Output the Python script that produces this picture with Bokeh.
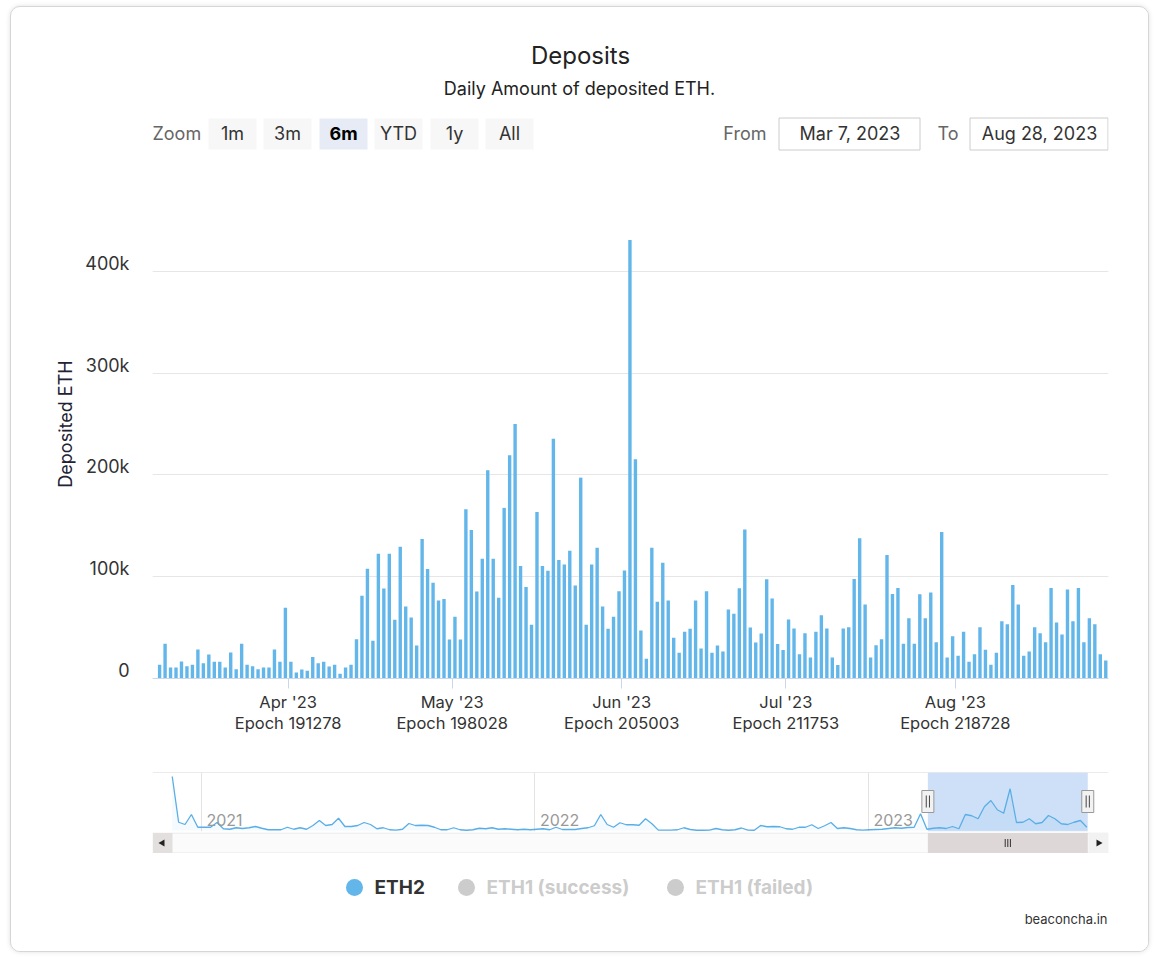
import math
import pandas as pd
from bokeh.plotting import figure
from bokeh.models import (Range1d, LinearAxis, FixedTicker, Grid, Span, ColumnDataSource)
from bokeh.layouts import column
from bokeh.embed import file_html
from bokeh.resources import INLINE
from bokeh.core.properties import value

# ---------------- data ----------------
first_day = "2023-03-08"
last_day = "2023-08-28"
# daily deposited ETH (thousands of ETH)
deposits_k = [
    13.4, 34.1, 10.8, 10.8, 16.7, 12.1, 13.4, 28.5, 15.1, 23.6,
    16.4, 16.4, 10.8, 25.6, 9.2, 34.1, 13.4, 12.1, 9.2, 10.8,
    10.8, 28.5, 16.4, 69.5, 16.4, 5.9, 8.9, 7.5, 21.0, 15.1,
    16.4, 11.8, 13.4, 4.6, 10.8, 13.4, 38.5, 81.2, 107.7, 37.2,
    122.5, 88.3, 122.5, 57.8, 129.4, 70.7, 59.8, 32.4, 137.0, 107.5,
    94.0, 76.5, 78.0, 38.2, 60.6, 38.2, 166.3, 145.8, 85.4, 117.6,
    204.6, 117.6, 79.4, 167.6, 219.3, 250.0, 110.6, 89.9, 52.9, 163.6,
    110.6, 105.9, 235.6, 116.5, 111.9, 125.4, 91.3, 197.3, 52.9, 112.0,
    128.5, 70.8, 48.9, 60.7, 85.6, 106.2, 430.8, 215.4, 47.2, 19.3,
    128.5, 75.4, 113.8, 76.7, 40.0, 25.2, 45.9, 48.9, 76.7, 29.5,
    85.6, 25.2, 32.5, 26.6, 67.9, 63.7, 88.6, 146.4, 50.2, 35.4,
    44.3, 97.5, 78.5, 34.0, 28.0, 57.9, 49.0, 23.7, 44.4, 20.7,
    46.0, 62.2, 49.0, 20.7, 13.2, 49.0, 50.3, 97.7, 137.8, 72.7,
    20.7, 32.6, 38.5, 121.4, 82.9, 88.8, 34.2, 59.2, 34.2, 82.8,
    59.2, 84.5, 35.5, 143.8, 20.7, 41.4, 22.4, 46.0, 16.4, 23.7,
    50.3, 28.3, 13.5, 25.3, 56.3, 53.3, 91.8, 72.7, 22.4, 26.6,
    50.3, 44.4, 35.5, 88.8, 54.9, 43.1, 87.5, 56.3, 88.8, 35.5,
    59.2, 53.3, 23.7, 17.8,
]
tick_dates = ["2023-04-01", "2023-05-01", "2023-06-01", "2023-07-01", "2023-08-01"]
tick_months = ["Apr '23", "May '23", "Jun '23", "Jul '23", "Aug '23"]
tick_epochs = ["Epoch 191278", "Epoch 198028", "Epoch 205003", "Epoch 211753", "Epoch 218728"]
y_ticks = [0, 100000, 200000, 300000, 400000]
y_tick_labels = ["0", "100k", "200k", "300k", "400k"]
grid_ticks = [100000, 200000, 300000, 400000, 500000]
view_from = "2023-03-07"
view_to = "2023-08-29"

# navigator: weekly overview of the whole history (thousands of ETH)
nav_start = "2020-11-30"
nav_k = [
    432, 66, 48, 128, 26, 26, 26, 64, 14, 10,
    22, 16, 22, 32, 18, 6, 6, 6, 26, 10,
    22, 10, 40, 80, 40, 48, 98, 32, 32, 40,
    64, 48, 14, 22, 6, 3, 10, 56, 40, 42,
    40, 26, 6, 6, 22, 6, 2, 6, 18, 14,
    22, 10, 14, 10, 6, 10, 6, 10, 14, 6,
    26, 8, 8, 8, 16, 22, 38, 128, 48, 26,
    62, 46, 46, 42, 94, 54, 3, 3, 3, 6,
    22, 8, 2, 2, 3, 16, 6, 2, 6, 20,
    3, 2, 40, 30, 32, 30, 14, 10, 26, 26,
    46, 16, 38, 64, 16, 22, 16, 6, 3, 6,
    8, 10, 16, 22, 18, 24, 26, 134, 10, 18,
    22, 16, 32, 14, 128, 118, 94, 192, 240, 166,
    138, 334, 64, 66, 94, 54, 64, 120, 94, 54,
    48, 66, 80, 26,
]
nav_years = ["2021-01-01", "2022-01-01", "2023-01-01"]
nav_year_labels = ["2021", "2022", "2023"]

legend_names = ["ETH2", "ETH1 (success)", "ETH1 (failed)"]
range_buttons = ["1m", "3m", "6m", "YTD", "1y", "All"]
selected_button = "6m"
from_text = "Mar 7, 2023"
to_text = "Aug 28, 2023"
title_text = "Deposits"
subtitle_text = "Daily Amount of deposited ETH."
credits_text = "beaconcha.in"

# ---------------- styling / layout ----------------
FONT = value("Inter")
BAR = "#63b6ea"
LINE = "#5aaee6"
TXT = "#333333"
OX, OY = 11, 7            # card content origin on the page
W = 1137                  # card inner width
FL, FR = 152, 1108        # plot frame left/right on the page
BL, BR = FL - OX, OX + W - FR


def canvas_fig(top, bottom):
    """Figure in page-pixel coordinates (y down); its frame spans FL..FR."""
    f = figure(width=W, height=bottom - top, x_range=Range1d(FL, FR),
               y_range=Range1d(bottom, top),
               output_backend="svg", toolbar_location=None,
               x_axis_location=None, y_axis_location=None,
               min_border_left=BL, min_border_right=BR, min_border_top=0,
               min_border_bottom=0, outline_line_color=None,
               background_fill_color="white", border_fill_color="white")
    f.grid.visible = False
    return f


def txt(f, x, y, s, size, color=TXT, align="left", style="normal", **kw):
    f.text(x=[x], y=[y], text=[s], text_font=FONT, text_font_size=size,
           text_color=color, text_align=align, text_baseline="middle",
           text_font_style=style, **kw)


# ---------------- header ----------------
hdr = canvas_fig(OY, 160)
txt(hdr, 580, 55, title_text, "24px", color="#222222", align="center")
txt(hdr, 579, 88, subtitle_text, "18px", color="#222222", align="center")
txt(hdr, 152, 133, "Zoom", "18px", color="#666666")
btn_left = [208, 263, 319, 374, 430, 485]
for name, bl in zip(range_buttons, btn_left):
    sel = name == selected_button
    hdr.quad(left=[bl], right=[bl + 48], top=[118], bottom=[149],
             fill_color="#e6ebf5" if sel else "#f7f7f7", line_color=None)
    txt(hdr, bl + 24, 133, name, "18px", color="#000000" if sel else TXT,
        align="center", style="bold" if sel else "normal")
txt(hdr, 766, 133, "From", "18px", color="#666666", align="right")
txt(hdr, 937, 133, "To", "18px", color="#666666")
for bl, br, s in [(778.5, 919.5, from_text), (969.5, 1107.5, to_text)]:
    hdr.quad(left=[bl], right=[br], top=[117.5], bottom=[149.5],
             fill_color="white", line_color="#cccccc", line_width=1)
    txt(hdr, (bl + br) / 2 + 0.5, 133, s, "18px", color=TXT, align="center")

# ---------------- main chart ----------------
origin = pd.Timestamp(view_from)
dates = pd.date_range(first_day, last_day, freq="D")
bar_x = [(d - origin).days + 0.5 for d in dates]
src = ColumnDataSource(dict(x=bar_x, top=[v * 1000 for v in deposits_k]))
tick_x = [(pd.Timestamp(d) - origin).days for d in tick_dates]

p = figure(width=W, height=610, x_range=Range1d(0.2, 175.0),
           y_range=Range1d(0, 500000), output_backend="svg",
           toolbar_location=None, y_axis_location=None,
           min_border_left=BL, min_border_right=BR, min_border_top=9,
           min_border_bottom=92, outline_line_color=None,
           background_fill_color="white", border_fill_color="white")
p.grid.visible = False
p.add_layout(Grid(dimension=1, ticker=FixedTicker(ticks=grid_ticks),
                  grid_line_color="#e6e6e6"))
p.vbar(x="x", top="top", width=0.62, source=src, fill_color=BAR, line_color=None)

xa = p.xaxis[0]
xa.ticker = FixedTicker(ticks=tick_x)
xa.major_label_overrides = {t: f"{m}\n{e}" for t, m, e in zip(tick_x, tick_months, tick_epochs)}
xa.axis_line_color = "#ccd6eb"
xa.major_tick_line_color = "#ccd6eb"
xa.major_tick_out = 10
xa.major_tick_in = 0
xa.minor_tick_line_color = None
xa.major_label_standoff = 3
xa.major_label_text_font = "Inter"
xa.major_label_text_font_size = "16.5px"
xa.major_label_text_line_height = 1.05
xa.major_label_text_color = TXT

# y labels sit slightly above their grid lines
p.extra_y_ranges = {"ylab": Range1d(-7860, 492140)}
ya = LinearAxis(y_range_name="ylab", ticker=FixedTicker(ticks=y_ticks),
                major_label_overrides=dict(zip(y_ticks, y_tick_labels)),
                axis_line_color=None, major_tick_line_color=None,
                minor_tick_line_color=None, major_label_standoff=17,
                major_label_text_font="Inter", major_label_text_font_size="18px",
                major_label_text_color=TXT,
                axis_label="Deposited ETH", axis_label_standoff=6,
                axis_label_text_font="Inter", axis_label_text_font_size="18px",
                axis_label_text_font_style="normal", axis_label_text_color="#222233")
p.add_layout(ya, "left")

# ---------------- navigator ----------------
n0 = pd.Timestamp(nav_start)
nav_x = [7 * k for k in range(len(nav_k))]
year_x = [(pd.Timestamp(d) - n0).days for d in nav_years]
sel_l = (pd.Timestamp(view_from) - n0).days
sel_r = (pd.Timestamp(view_to) - n0).days
NAV_X = (-21.6, 1024.7)
px_per_day = (FR - FL) / (NAV_X[1] - NAV_X[0])

nav = figure(width=W, height=62, x_range=Range1d(*NAV_X), y_range=Range1d(-8, 464),
             output_backend="svg", toolbar_location=None,
             x_axis_location=None, y_axis_location=None,
             min_border_left=BL, min_border_right=BR, min_border_top=2,
             min_border_bottom=1, outline_line_color=None,
             background_fill_color="white", border_fill_color="white")
nav.grid.visible = False
nav.quad(left=[sel_l], right=[sel_r], bottom=[-8], top=[464],
         fill_color="#cde0f7", line_color=None)
nav.add_layout(Grid(dimension=0, ticker=FixedTicker(ticks=year_x), grid_line_color="#e3e3e3"))
nav.add_layout(Span(location=464, dimension="width", line_color="#d8d8d8", line_width=1))
nav.varea(x=nav_x, y1=[0] * len(nav_k), y2=nav_k, fill_color=LINE, fill_alpha=0.06)
nav.line(x=nav_x, y=nav_k, line_color=LINE, line_width=1.3)
nav.text(x=year_x, y=[88] * len(year_x), text=nav_year_labels, x_offset=5,
         text_font=FONT, text_font_size="16px", text_color="#999999",
         text_baseline="middle")
# zoom handles
nav.rect(x=[sel_l, sel_r], y=[232, 232], width=12, height=22,
         width_units="screen", height_units="screen",
         fill_color="#f2f2f2", line_color="#999999")
gx = []
for c in (sel_l, sel_r):
    gx += [c - 1.6 / px_per_day, c + 1.6 / px_per_day]
nav.segment(x0=gx, x1=gx, y0=[184] * 4, y1=[280] * 4, line_color="#444444", line_width=1)

# ---------------- scrollbar ----------------
sb = figure(width=W, height=21, x_range=Range1d(*NAV_X), y_range=Range1d(0, 21),
            output_backend="svg", toolbar_location=None,
            x_axis_location=None, y_axis_location=None,
            min_border_left=BL, min_border_right=BR, min_border_top=0,
            min_border_bottom=0, outline_line_color=None,
            background_fill_color="white", border_fill_color="white")
sb.grid.visible = False
sb.extra_x_ranges = {"px": Range1d(0, FR - FL)}
sb.quad(left=[0.5], right=[955.5], bottom=[0.5], top=[20.5], fill_color="#fbfbfb",
        line_color="#e6e6e6", x_range_name="px")
sb.quad(left=[0.5, 936], right=[20, 955.5], bottom=[0.5, 0.5], top=[20.5, 20.5],
        fill_color=["#e4dfdf", "#f2f2f2"], line_color=None, x_range_name="px")
sb.quad(left=[sel_l], right=[sel_r], bottom=[0.5], top=[20.5],
        fill_color="#ddd7d7", line_color=None)
sb.scatter(x=[10, 946], y=[10.5, 10.5], marker="triangle", size=7,
           angle=[math.pi / 2, -math.pi / 2], fill_color="#222222", line_color=None,
           x_range_name="px")
mid = (sel_l + sel_r) / 2
grip = [mid + k * 2.6 / px_per_day for k in (-1, 0, 1)]
sb.segment(x0=grip, x1=grip, y0=[6.5] * 3, y1=[14.5] * 3, line_color="#333333", line_width=1)

# ---------------- legend + credits ----------------
ft = canvas_fig(853, 951)
leg_cx = [354, 466, 675]
leg_colors = [BAR, "#cccccc", "#cccccc"]
leg_text_colors = [TXT, "#cccccc", "#cccccc"]
ft.scatter(x=leg_cx, y=[887] * 3, size=17, fill_color=leg_colors, line_color=None)
for cx, tc, nm in zip(leg_cx, leg_text_colors, legend_names):
    txt(ft, cx + 20, 887, nm, "19px", color=tc, style="bold")
txt(ft, 1107, 918, credits_text, "13px", color=TXT, align="right")

layout = column(hdr, p, nav, sb, ft, spacing=0, margin=(OY - 1, 0, 0, OX - 1),
                styles={"border": "1px solid #d6d6d6", "border-radius": "10px",
                        "box-shadow": "0 0 5px rgba(0,0,0,0.12)", "overflow": "hidden",
                        "background-color": "white"})
open("out.html", "w").write(file_html(layout, INLINE))
